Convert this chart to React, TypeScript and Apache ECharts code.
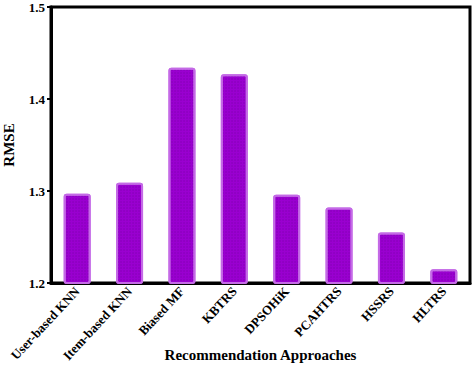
import React, { useEffect, useRef } from "react";
import * as echarts from "echarts";

const categories = [
  "User-based KNN",
  "Item-based KNN",
  "Biased MF",
  "KBTRS",
  "DPSOHiK",
  "PCAHTRS",
  "HSSRS",
  "HLTRS",
];
const rmseValues = [1.297, 1.309, 1.434, 1.427, 1.296, 1.282, 1.255, 1.215];
const yTicks = [1.2, 1.3, 1.4, 1.5];

export default function App() {
  const ref = useRef<HTMLDivElement>(null);
  useEffect(() => {
    if (!ref.current) return;
    const chart = echarts.init(ref.current, null, { renderer: "svg" });
    const font = "'Liberation Serif', 'Times New Roman', serif";
    chart.setOption({
      animation: false,
      backgroundColor: "#ffffff",
      grid: {
        left: 51,
        right: 4,
        top: 7,
        bottom: 83,
        containLabel: false,
        outerBoundsMode: "none",
        show: true,
        borderColor: "#000",
        borderWidth: 3,
      },
      xAxis: {
        type: "category",
        data: categories,
        name: "Recommendation Approaches",
        nameLocation: "middle",
        nameGap: 64,
        nameMoveOverlap: false,
        nameTextStyle: { fontFamily: font, fontWeight: "bold", fontSize: 15, color: "#000" },
        axisLine: { lineStyle: { color: "#000", width: 3 } },
        axisTick: { alignWithLabel: true, length: 4, lineStyle: { color: "#000", width: 2 } },
        axisLabel: {
          rotate: 47,
          interval: 0,
          margin: 6,
          fontFamily: font,
          fontWeight: "bold",
          fontSize: 13,
          color: "#000",
        },
      },
      yAxis: {
        type: "value",
        min: yTicks[0],
        max: yTicks[yTicks.length - 1],
        interval: 0.1,
        name: "RMSE",
        nameLocation: "middle",
        nameGap: 35,
        nameMoveOverlap: false,
        nameTextStyle: { fontFamily: font, fontWeight: "bold", fontSize: 15, color: "#000" },
        splitLine: { show: false },
        axisLine: { show: true, lineStyle: { color: "#000", width: 3 } },
        axisTick: { show: true, length: 4, lineStyle: { color: "#000", width: 2 } },
        axisLabel: {
          margin: 6,
          fontFamily: font,
          fontWeight: "bold",
          fontSize: 13,
          color: "#000",
          formatter: (v: number) => v.toFixed(1),
        },
      },
      series: [
        {
          type: "bar",
          data: rmseValues,
          barWidth: 27,
          itemStyle: {
            color: "#9a00d0",
            borderColor: "#c46ae6",
            borderWidth: 2,
            borderRadius: 2,
            decal: {
              symbol: "circle",
              symbolSize: 0.6,
              color: "rgba(70,0,110,0.35)",
              dashArrayX: [2, 1],
              dashArrayY: [2, 1],
              rotation: 0,
            },
          },
        },
      ],
    });
    return () => chart.dispose();
  }, []);
  return <div ref={ref} style={{ width: 474, height: 366, position: "absolute", left: 0, top: 0 }} />;
}
